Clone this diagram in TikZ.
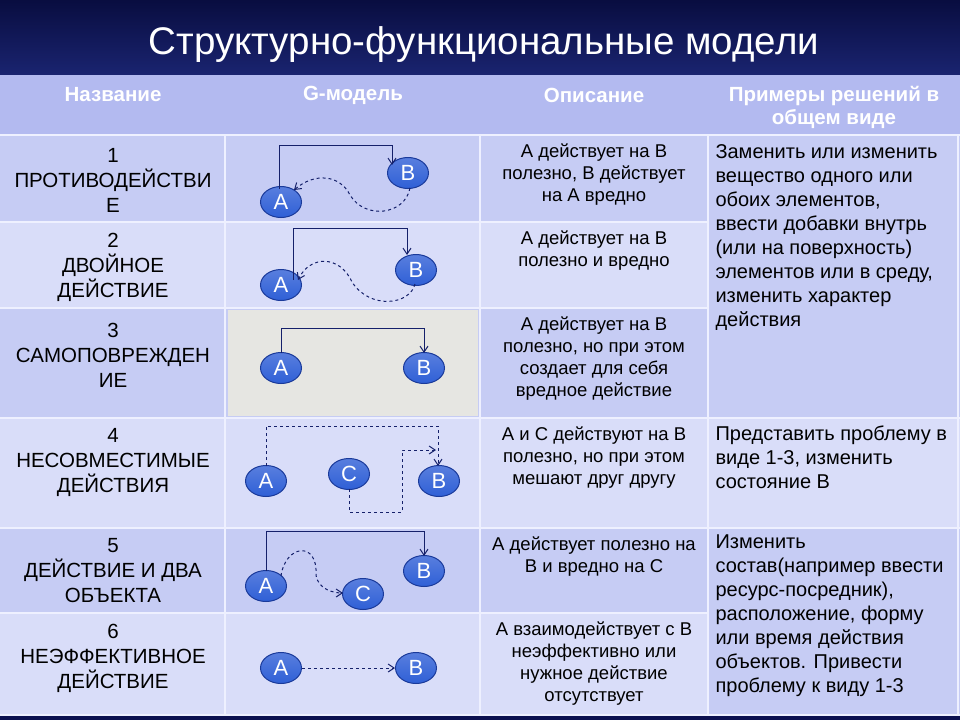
\documentclass[tikz,border=0pt]{standalone}
\usepackage{fontspec}
\setmainfont{Liberation Sans}
\usetikzlibrary{arrows.meta,shapes.geometric}
\definecolor{navy}{HTML}{0B1050}
\definecolor{navyt}{HTML}{1A2470}
\definecolor{hdr}{HTML}{B3BAF0}
\definecolor{rA}{HTML}{C6CCF4}
\definecolor{rB}{HTML}{D9DDF9}
\definecolor{tex}{HTML}{E6E6E2}
\definecolor{grid}{HTML}{EEF0FF}
\definecolor{ell}{HTML}{2F5FD6}
\definecolor{elld}{HTML}{1A3A9A}
\definecolor{ln}{HTML}{15206A}
\tikzset{
 x=1pt,y=-1pt,
 cell/.style={draw=grid,line width=1.2pt},
 obj/.style={ellipse,draw=elld,line width=1pt,top color=ell!80!white,bottom color=ell,text=white,inner sep=0pt,minimum width=41,minimum height=31,font=\fontsize{22}{22}\selectfont},
 nm/.style={align=center,font=\fontsize{20.5}{25}\selectfont,text=black},
 ds/.style={align=center,font=\fontsize{18.5}{22}\selectfont,text=black},
 ex/.style={align=left,anchor=north west,font=\fontsize{20}{24}\selectfont,text=black},
 hd/.style={align=center,font=\bfseries\fontsize{20.5}{23}\selectfont,text=white},
 sl/.style={draw=ln,line width=1pt},
 dl/.style={draw=ln,line width=1pt,dashed},
 tip/.style={-{Straight Barb[length=6pt,width=8pt]}},
}
\begin{document}
\begin{tikzpicture}
\useasboundingbox (0,0) rectangle (960,720);
\fill[top color=navy!80!black,bottom color=navyt] (0,0) rectangle (960,75);
\fill[navy] (0,75) rectangle (960,720);
\node[text=white,font=\fontsize{38.5}{38}\selectfont] (title) at (484,45) {Структурно-функциональные модели};
% header
\fill[hdr] (0,75) rectangle (960,135);
\node[hd] (h1) at (113,95) {Название};
\node[hd] (h2) at (353,95) {G-модель};
\node[hd] (h3) at (594,95) {Описание};
\node[hd] (h4) at (834,107) {Примеры решений в\\общем виде};
% rows
\fill[rA] (0,135) rectangle (960,222);
\fill[rB] (0,222) rectangle (960,308);
\fill[rA] (0,308) rectangle (960,418);
\fill[rB] (0,418) rectangle (960,528);
\fill[rA] (0,528) rectangle (960,613);
\fill[rB] (0,613) rectangle (960,715);
\fill[rA] (708,135) rectangle (960,418);
\fill[rB] (708,418) rectangle (960,528);
\fill[rA] (708,528) rectangle (960,715);
\fill[tex] (228,310) rectangle (478,416);
% grid
\foreach \y in {135,222,308,418,528,613,715} \draw[cell] (0,\y) -- (708,\y);
\foreach \y in {135,418,528,715} \draw[cell] (708,\y) -- (960,\y);
\foreach \x in {225,480,708} \draw[cell] (\x,135) -- (\x,715);
\draw[cell] (958,135) -- (958,715);
% column 1
\node[nm] (n1) at (113,180) {1\\ПРОТИВОДЕЙСТВИ\\Е};
\node[nm] (n2) at (113,267) {2\\ДВОЙНОЕ\\ДЕЙСТВИЕ};
\node[nm] (n3) at (113,355) {3\\САМОПОВРЕЖДЕН\\ИЕ};
\node[nm] (n4) at (113,462) {4\\НЕСОВМЕСТИМЫЕ\\ДЕЙСТВИЯ};
\node[nm] (n5) at (113,571) {5\\ДЕЙСТВИЕ И ДВА\\ОБЪЕКТА};
\node[nm] (n6) at (113,658) {6\\НЕЭФФЕКТИВНОЕ\\ДЕЙСТВИЕ};
% column 3
\node[ds,anchor=north] (d1) at (594,140) {А действует на В\\полезно, В действует\\на А вредно};
\node[ds,anchor=north] (d2) at (594,227) {А действует на В\\полезно и вредно};
\node[ds,anchor=north] (d3) at (594,313) {А действует на В\\полезно, но при этом\\создает для себя\\вредное действие};
\node[ds,anchor=north] (d4) at (594,423) {А и С действуют на В\\полезно, но при этом\\мешают друг другу};
\node[ds,anchor=north] (d5) at (594,533) {А действует полезно на\\В и вредно на С};
\node[ds,anchor=north] (d6) at (594,618) {А взаимодействует с В\\неэффективно или\\нужное действие\\отсутствует};
% column 4
\node[ex] (e1) at (712,141) {Заменить или изменить\\вещество одного или\\обоих элементов,\\ввести добавки внутрь\\(или на поверхность)\\элементов или в среду,\\изменить характер\\действия};
\node[ex] (e2) at (712,422) {Представить проблему в\\виде 1-3, изменить\\состояние В};
\node[ex] (e3) at (712,531) {Изменить\\состав(например ввести\\ресурс-посредник),\\расположение, форму\\или время действия\\объектов. Привести\\проблему к виду 1-3};
% row 1
\node[obj] (a1) at (281,202) {A};
\node[obj] (b1) at (408,173) {B};
\draw[sl,tip] (279,189) -- (279,145) -- (392,145) -- (392,165);
\draw[dl,tip] (410,188) .. controls (405,215) and (365,220) .. (350,195) .. controls (340,175) and (315,172) .. (294,190);
% row 2
\node[obj] (a2) at (281,285) {A};
\node[obj] (b2) at (416,270) {B};
\draw[sl,tip] (293,280) -- (293,228) -- (407,228) -- (407,255);
\draw[dl,tip] (415,284) .. controls (410,305) and (370,310) .. (352,282) .. controls (340,255) and (310,255) .. (298,280);
% row 3
\node[obj] (a3) at (281,368) {A};
\node[obj] (b3) at (424,368) {B};
\draw[sl,tip] (281,353) -- (281,328) -- (424,328) -- (424,353);
% row 4
\node[obj] (a4) at (266,481) {A};
\node[obj] (c4) at (349,474) {C};
\node[obj] (b4) at (439,481) {B};
\draw[dl,tip] (266,466) -- (266,426) -- (438,426) -- (438,466);
\draw[dl,tip] (349,489) -- (349,512) -- (402,512) -- (402,450) -- (436,450);
% row 5
\node[obj] (a5) at (266,586) {A};
\node[obj] (c5) at (363,594) {C};
\node[obj] (b5) at (424,571) {B};
\draw[sl,tip] (266,571) -- (266,531) -- (424,531) -- (424,556);
\draw[dl,tip] (281,576) .. controls (285,545) and (318,540) .. (316,575) .. controls (318,590) and (335,593) .. (343,593);
% row 6
\node[obj] (a6) at (281,668) {A};
\node[obj] (b6) at (416,668) {B};
\draw[dl,tip] (a6) -- (b6);
\end{tikzpicture}
\end{document}
